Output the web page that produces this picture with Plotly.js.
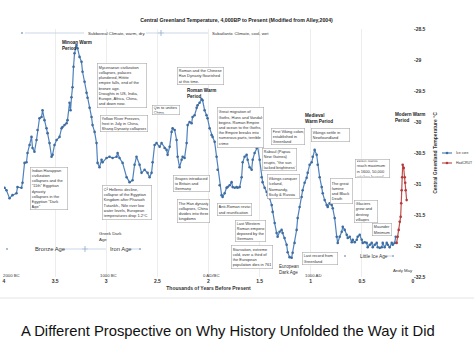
<!DOCTYPE html>
<html><head><meta charset="utf-8">
<script src="https://cdn.plot.ly/plotly-3.0.1.min.js"></script>
<style>html,body{margin:0;padding:0;background:#fff;}#chart{width:474px;height:363px;}</style>
</head><body><div id="chart"></div>
<script>
// ---- data (ka BP, deg C) ----
const iceAge = [3.995,3.976,3.946,3.917,3.878,3.868,3.829,3.819,3.799,3.780,3.770,3.750,3.731,3.721,3.702,3.682,3.672,3.653,3.633,3.623,3.604,3.584,3.574,3.555,3.535,3.525,3.506,3.486,3.457,3.437,3.428,3.408,3.388,3.379,3.359,3.349,3.340,3.330,3.320,3.310,3.291,3.281,3.261,3.242,3.232,3.212,3.193,3.183,3.163,3.144,3.134,3.114,3.095,3.085,3.066,3.046,3.036,2.997,2.968,2.938,2.899,2.889,2.870,2.840,2.801,2.772,2.743,2.723,2.704,2.674,2.655,2.625,2.596,2.576,2.557,2.547,2.527,2.508,2.478,2.459,2.429,2.410,2.400,2.380,2.361,2.351,2.331,2.312,2.302,2.283,2.263,2.253,2.234,2.214,2.204,2.185,2.165,2.156,2.136,2.116,2.107,2.087,2.068,2.058,2.038,2.019,2.009,1.989,1.970,1.960,1.940,1.921,1.911,1.891,1.872,1.862,1.842,1.823,1.813,1.793,1.774,1.764,1.744,1.725,1.715,1.695,1.676,1.666,1.647,1.627,1.617,1.598,1.578,1.568,1.549,1.529,1.519,1.500,1.480,1.471,1.451,1.431,1.422,1.402,1.382,1.373,1.353,1.334,1.324,1.305,1.285,1.275,1.256,1.236,1.226,1.207,1.187,1.177,1.158,1.138,1.128,1.109,1.089,1.079,1.060,1.040,1.030,1.011,0.991,0.981,0.962,0.942,0.932,0.913,0.893,0.883,0.864,0.844,0.834,0.815,0.795,0.785,0.766,0.746,0.736,0.717,0.697,0.687,0.668,0.648,0.638,0.619,0.599,0.589,0.570,0.550,0.541,0.521,0.501,0.492,0.472,0.453,0.443,0.423,0.404,0.394,0.374,0.355,0.345,0.325,0.306,0.296,0.277,0.257,0.247,0.228,0.208,0.198,0.179,0.169];
const iceTemp = [-31.06,-31.10,-31.23,-31.18,-31.15,-31.05,-31.06,-30.98,-30.66,-30.65,-30.50,-30.37,-30.24,-30.42,-30.48,-30.29,-30.13,-29.94,-29.92,-29.81,-29.97,-30.10,-30.18,-30.34,-30.56,-30.53,-30.37,-30.29,-30.24,-30.10,-30.08,-30.05,-30.02,-29.97,-29.69,-29.81,-29.60,-29.44,-29.11,-28.89,-28.76,-28.81,-28.95,-29.03,-29.19,-29.35,-29.53,-29.61,-29.77,-29.92,-30.05,-30.16,-30.34,-30.66,-30.73,-30.61,-30.65,-30.58,-30.56,-30.58,-30.56,-30.50,-30.58,-30.66,-30.89,-30.97,-30.94,-30.69,-30.56,-30.69,-30.82,-30.77,-30.82,-30.89,-30.82,-30.65,-30.37,-30.34,-30.40,-30.34,-30.42,-30.45,-30.53,-30.40,-30.16,-30.10,-30.13,-30.29,-30.56,-30.73,-30.61,-30.56,-30.58,-30.34,-30.05,-30.00,-30.02,-29.92,-29.89,-29.77,-29.73,-29.69,-29.63,-29.65,-29.81,-29.89,-29.94,-30.10,-30.21,-30.24,-30.32,-30.56,-30.77,-31.02,-31.18,-31.21,-31.15,-31.06,-31.05,-31.02,-30.97,-31.05,-31.06,-31.05,-31.06,-31.05,-30.89,-30.65,-30.56,-30.53,-30.61,-30.73,-30.77,-30.61,-30.50,-30.42,-30.40,-30.61,-30.89,-30.97,-31.06,-31.13,-31.18,-31.23,-31.34,-31.45,-31.63,-31.79,-31.85,-31.77,-31.74,-31.79,-31.87,-31.98,-32.10,-32.18,-32.19,-32.11,-31.95,-31.74,-31.55,-31.37,-31.21,-31.10,-30.98,-30.90,-30.82,-30.69,-30.65,-30.56,-30.45,-30.53,-30.69,-30.89,-31.05,-31.15,-31.26,-31.34,-31.37,-31.31,-31.34,-31.39,-31.55,-31.85,-31.95,-31.85,-31.77,-31.69,-31.74,-31.82,-31.87,-31.85,-31.94,-31.90,-31.94,-31.90,-31.85,-31.82,-31.90,-31.95,-31.94,-31.95,-32.02,-31.98,-31.95,-32.02,-31.98,-31.95,-32.02,-32.03,-32.02,-31.95,-32.02,-31.95,-31.98,-32.02,-31.95,-31.98,-31.95,-31.85];
const hadAge = [0.160,0.150,0.140,0.130,0.121,0.115,0.111,0.106,0.101,0.091,0.081,0.076,0.072,0.062];
const hadTemp = [-31.95,-31.85,-31.74,-31.61,-31.53,-31.31,-31.10,-30.89,-30.69,-30.74,-30.89,-30.98,-31.10,-31.26];
const seriesNames = ['Ice core','HadCRUT'];
const xTickVals = [4,3.5,3,2.5,2,1.5,1,0.5,0];
const xTickText = ['4','3.5','3','2.5','2','1.5','1','0.5','0'];
const yTickVals = [-28.5,-29,-29.5,-30,-30.5,-31,-31.5,-32,-32.5];
const yTickText = ['-28.5','-29','-29.5','-30','-30.5','-31','-31.5','-32','-32.5'];

// ---- layout helpers (pixel -> paper) ----
const W=474,H=363,L=4,R=61,T=29,B=86;
const PW=W-L-R, PH=H-T-B;
const px = x => (x-L)/PW;
const py = y => (H-B-y)/PH;
const FONT = 'Liberation Sans, Arial, sans-serif';
const BLUE='#4f81bd', RED='#c0504d';

function box(l,t,r,b,text,size){
  const bw=0.6,bp=1;
  return {xref:'paper',yref:'paper',x:px((l+r)/2),y:py((t+b)/2),xanchor:'center',yanchor:'middle',
    text:text,showarrow:false,align:'left',valign:'middle',
    width:r-l-2*(bw+bp),height:b-t-2*(bw+bp),
    bordercolor:'#a8a8a8',borderwidth:bw,borderpad:bp,bgcolor:'#ffffff',
    font:{family:FONT,size:size||4,color:'#333'}};
}
function label(x,y,text,size,opts){
  return Object.assign({xref:'paper',yref:'paper',x:px(x),y:py(y),xanchor:'left',yanchor:'middle',
    text:text,showarrow:false,align:'left',font:{family:FONT,size:size||4.5,color:'#333'}},opts||{});
}
function hline(a,b,y,color,w){
  return {type:'line',xref:'paper',yref:'paper',x0:px(a),x1:px(b),y0:py(y),y1:py(y),line:{color:color,width:w||1}};
}
function vline(x,a,b,color,w){
  return {type:'line',xref:'paper',yref:'paper',x0:px(x),x1:px(x),y0:py(a),y1:py(b),line:{color:color,width:w||1}};
}
function dot(cx,cy,r,color){
  return {type:'circle',xref:'paper',yref:'paper',x0:px(cx-r),x1:px(cx+r),y0:py(cy+r),y1:py(cy-r),fillcolor:color,line:{width:0}};
}

const bandC='#bfcde0', crossC='#8ea9c9';
const shapes = [
  hline(0,474,298,'#e4e4e4',1),
  // top climate band
  dot(22,33,1,'#8ea9c9'), hline(25,84,33,bandC,0.8), hline(146,158,33,bandC,0.8),
  hline(158,164,33,crossC,0.8), vline(161,30,36,crossC,0.8), hline(164,208,33,bandC,0.8),
  // bottom age band
  dot(7,249,1,'#8ea9c9'), hline(63,82,249,bandC,0.8), hline(82,88,249,crossC,0.8), vline(85,246,252,crossC,0.8),
  hline(88,106,249,bandC,0.8), hline(130,139,249,bandC,0.8), dot(140,249,1,'#8ea9c9'),
  // little ice age
  dot(345,256,1,'#8ea9c9'), hline(387,392,256,bandC,0.8), dot(393,256,1,'#8ea9c9'),
  // legend glyphs
  hline(442,452,153,BLUE,1.2), dot(447,153,1.3,'#3e6c9f'),
  hline(442,452,163,RED,1.2), dot(447,163,1.3,'#b23a3a')
];

const bold = {family:FONT,size:4.6,color:'#222',weight:'bold'};
const annotations = [
  box(97,63,147,108,'Mycenaean civilization<br>collapses, palaces<br>plundered, Hittite<br>empire falls, end of the<br>bronze age.<br>Droughts in US, India,<br>Europe, Africa, China,<br>and down now.'),
  box(100,115,148,132,'Yellow River Freezes,<br>frost in July in China,<br>Shang Dynasty collapses'),
  box(30,167,68,210,'Indian Harappan<br>civilization<br>collapses and the<br>"11th" Egyptian<br>dynasty<br>collapses in the<br>Egyptian "Dark<br>Age"'),
  box(102,185,152,220,'C² Hellenic decline,<br>collapse of the Egyptian<br>Kingdom after Pharaoh<br>Tutankh., Nile river low<br>water levels, European<br>temperatures drop 1.2°C'),
  box(152,105,180,115,'Qin to unifies<br>China'),
  box(177,67,224,85,'Roman and the Chinese<br>Han Dynasty flourished<br>at this time.'),
  box(217,107,264,148,'Great migration of<br>Goths, Huns and Vandals<br>begins. Roman Empire<br>and ocean to the Goths,<br>the Empire breaks into<br>numerous parts, terrible<br>crime'),
  box(173,175,210,192,'Grapes introduced<br>to Britain and<br>Germany'),
  box(177,199,210,223,'The Han dynasty<br>collapses, China<br>divides into three<br>kingdoms'),
  box(217,203,252,216,'Anti-Roman revival<br>and reunification'),
  box(235,220,266,242,'Last Western<br>Roman emperor<br>deposed by the<br>Germans'),
  box(231,245,273,269,'Starvation, extreme<br>cold, over a third of<br>the European<br>population dies in 761'),
  box(271,128,305,145,'First Viking colony<br>established in<br>Greenland'),
  box(262,148,297,171,'Rabaul (Papua<br>New Guinea)<br>erupts, "the sun<br>lacked brightness"'),
  box(267,174,300,199,'Vikings conquer<br>Iceland,<br>Normandy,<br>Sicily & Russia'),
  box(311,128,350,142,'Vikings settle in<br>Newfoundland'),
  box(355,159,390,178,'Witch hunts<br>reach maximum<br>in 1600, 50,000<br>witches burned'),
  box(330,178,353,204,'The great<br>famine<br>and Black<br>Death'),
  box(354,200,378,223,'Glaciers<br>grow and<br>destroy<br>villages'),
  box(372,223,392,236,'Maunder<br>Minimum'),
  box(302,252,338,265,'Last record from<br>Greenland'),
  label(60,45,'Minoan Warm<br>Period',4.6,{font:bold}),
  label(185,93,'Roman Warm<br>Period',4.6,{font:bold}),
  label(303,118.5,'Medieval<br>Warm Period',4.6,{font:bold}),
  label(393,117,'Modern Warm<br>Period',4.6,{font:bold}),
  label(277,269.5,'European<br>Dark Age',4.6),
  label(97,236.5,'Greek Dark<br>Age',4.4),
  label(33,249,'Bronze Age',5.8),
  label(108,249,'Iron Age',5.8),
  label(358,256,'Little Ice Age',4.8),
  label(86,33,'Subboreal Climate, warm, dry',4.3),
  label(210,33,'Subatlantic Climate, cool, wet',4.3),
  label(0.5,275,'2000 BC',4.3),
  label(108.5,275,'1000 BC',4.3,{xanchor:'center'}),
  label(211,275,'0 AD/BC',4.3,{xanchor:'center'}),
  label(313,275,'1000 AD',4.3,{xanchor:'center'}),
  label(403,270,'Andy May',4.3,{xanchor:'center'}),
  label(454,153,seriesNames[0],3.5),
  label(454,163,seriesNames[1],3.5),
  label(19,331,'A Different Prospective on Why History Unfolded the Way it Did',14.8,{font:{family:FONT,size:14.8,color:'#111'}})
];

const traces = [
  {x:iceAge,y:iceTemp,name:seriesNames[0],type:'scatter',mode:'lines+markers',
   line:{color:BLUE,width:1.2},marker:{size:2.6,color:'#3e6c9f'},showlegend:false},
  {x:hadAge,y:hadTemp,name:seriesNames[1],type:'scatter',mode:'lines+markers',
   line:{color:RED,width:1.2},marker:{size:2.6,color:'#b23a3a'},showlegend:false}
];

const tickfont = {family:FONT,size:5,color:'#333',weight:'bold'};
const layout = {
  width:W,height:H,margin:{l:L,r:R,t:T,b:B,pad:0},
  paper_bgcolor:'#fff',plot_bgcolor:'#fff',showlegend:false,
  title:{text:'Central Greenland Temperature, 4,000BP to Present (Modified from Alley,2004)',
    font:{family:FONT,size:5.2,color:'#222',weight:'bold'},
    xref:'container',yref:'container',x:236.5/W,y:1-20/H,xanchor:'center',yanchor:'middle'},
  xaxis:{range:[4,0],tickmode:'array',tickvals:xTickVals,ticktext:xTickText,
    showgrid:true,gridcolor:'#e9e9e9',gridwidth:0.8,zeroline:false,showline:false,ticks:'',
    tickfont:tickfont,automargin:false,
    title:{text:'Thousands of Years Before Present',font:{family:FONT,size:5,color:'#333',weight:'bold'},standoff:3}},
  yaxis:{range:[-32.5,-28.5],side:'right',tickmode:'array',tickvals:yTickVals,ticktext:yTickText,
    showgrid:false,zeroline:false,showline:false,ticks:'',tickfont:tickfont,automargin:false,
    title:{text:'Central Greenland Temperature °C',font:{family:FONT,size:5,color:'#333',weight:'bold'},standoff:8}},
  shapes:shapes,annotations:annotations
};
Plotly.newPlot('chart',traces,layout,{staticPlot:true,displayModeBar:false});
</script></body></html>
